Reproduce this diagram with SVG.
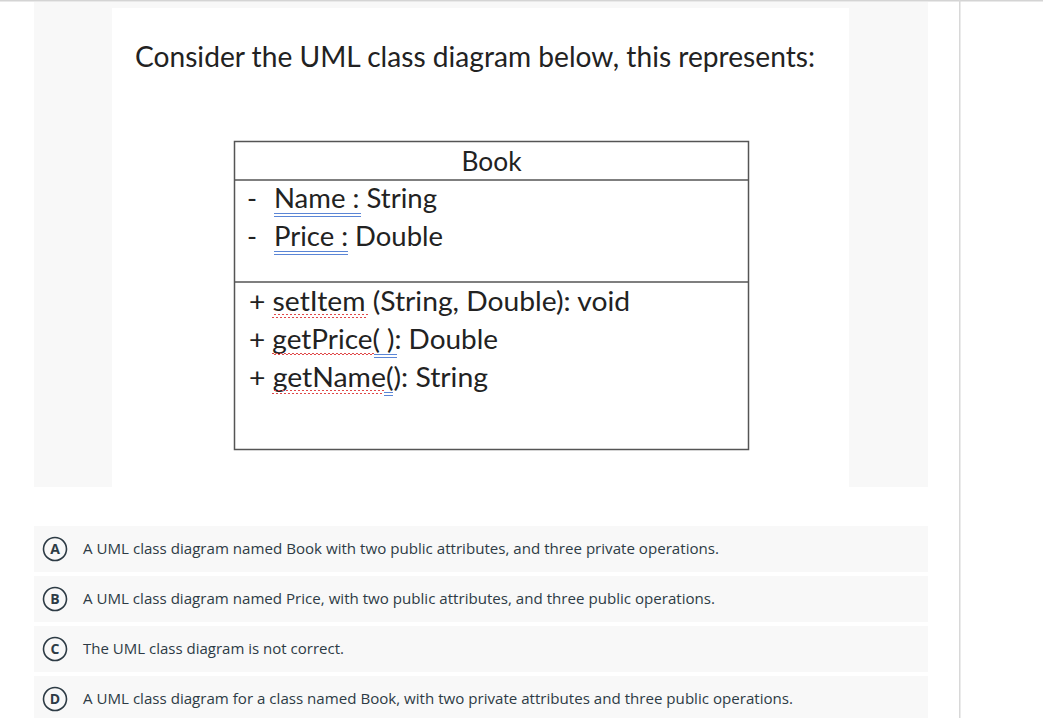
<svg xmlns="http://www.w3.org/2000/svg" width="1043" height="718" viewBox="0 0 1043 718">
<defs>
<style>
.panel{fill:#f8f8f8}
.cal{font-family:Lato,"Liberation Sans",sans-serif;fill:#222222}
.opt{font-family:"Open Sans","Liberation Sans",sans-serif;font-size:14px;font-weight:500;fill:#2d3b45}
.letter{font-family:"Open Sans","Liberation Sans",sans-serif;font-size:14px;font-weight:700;fill:#2d3b45;text-anchor:middle}
.circ{fill:none;stroke:#2d3b45;stroke-width:1.6}
.box{fill:#ffffff;stroke:#555555;stroke-width:1.5}
.div{stroke:#555555;stroke-width:1.5}
.blue{stroke:#5b86d6;stroke-width:1}
</style>
<pattern id="wave" width="4" height="4" patternUnits="userSpaceOnUse">
<path d="M0,2 Q1,0 2,2 T4,2" fill="none" stroke="#e04848" stroke-width="1"/>
</pattern>
</defs>
<rect width="1043" height="718" fill="#ffffff"/>
<rect x="0" y="0" width="1043" height="1.5" fill="#d4d4d4"/>
<rect x="959" y="0" width="1.5" height="718" fill="#d8d8d8"/>
<rect class="panel" x="34" y="2" width="894" height="485"/>
<rect x="112" y="8" width="737" height="479" fill="#ffffff"/>
<text class="cal" x="135" y="67" font-size="28" textLength="680" lengthAdjust="spacingAndGlyphs" fill="#111111">Consider the UML class diagram below, this represents:</text>
<g id="book">
<rect class="box" x="234.5" y="141.5" width="514" height="308"/>
<line class="div" x1="234.5" y1="180" x2="748.5" y2="180"/>
<line class="div" x1="234.5" y1="282" x2="748.5" y2="282"/>
<text class="cal" x="491.5" y="171" font-size="27" text-anchor="middle" textLength="60" lengthAdjust="spacingAndGlyphs">Book</text>
<text class="cal" x="247" y="208" font-size="27">-</text>
<text class="cal" x="274" y="208" font-size="27" textLength="163" lengthAdjust="spacingAndGlyphs">Name : String</text>
<line class="blue" x1="274" y1="213.5" x2="361" y2="213.5"/>
<line class="blue" x1="274" y1="216.5" x2="361" y2="216.5"/>
<text class="cal" x="247" y="246" font-size="27">-</text>
<text class="cal" x="274" y="246" font-size="27" textLength="169" lengthAdjust="spacingAndGlyphs">Price : Double</text>
<line class="blue" x1="274" y1="251.5" x2="348" y2="251.5"/>
<line class="blue" x1="274" y1="254.5" x2="348" y2="254.5"/>
<text class="cal" x="249" y="311" font-size="27" textLength="381" lengthAdjust="spacingAndGlyphs">+ setItem (String, Double): void</text>
<rect x="272" y="314" width="96" height="4" fill="url(#wave)"/>
<text class="cal" x="249" y="349" font-size="27" textLength="249" lengthAdjust="spacingAndGlyphs">+ getPrice( ): Double</text>
<rect x="272" y="352" width="104" height="4" fill="url(#wave)"/>
<line class="blue" x1="374" y1="354.5" x2="397" y2="354.5"/>
<line class="blue" x1="374" y1="357.5" x2="397" y2="357.5"/>
<text class="cal" x="249" y="387" font-size="27" textLength="239" lengthAdjust="spacingAndGlyphs">+ getName(): String</text>
<rect x="272" y="390" width="112" height="4" fill="url(#wave)"/>
<line class="blue" x1="384" y1="392.5" x2="393" y2="392.5"/>
<line class="blue" x1="384" y1="395.5" x2="393" y2="395.5"/>
</g>
<g id="optA">
<rect class="panel" x="34" y="526" width="894" height="46"/>
<circle class="circ" cx="55" cy="549" r="11.5"/>
<text class="letter" x="55" y="554">A</text>
<text class="opt" x="83" y="554" textLength="636" lengthAdjust="spacingAndGlyphs">A UML class diagram named Book with two public attributes, and three private operations.</text>
</g>
<g id="optB">
<rect class="panel" x="34" y="576" width="894" height="46"/>
<circle class="circ" cx="55" cy="599" r="11.5"/>
<text class="letter" x="55" y="604">B</text>
<text class="opt" x="83" y="604" textLength="632" lengthAdjust="spacingAndGlyphs">A UML class diagram named Price, with two public attributes, and three public operations.</text>
</g>
<g id="optC">
<rect class="panel" x="34" y="626" width="894" height="46"/>
<circle class="circ" cx="55" cy="649" r="11.5"/>
<text class="letter" x="55" y="654">C</text>
<text class="opt" x="83" y="654" textLength="261" lengthAdjust="spacingAndGlyphs">The UML class diagram is not correct.</text>
</g>
<g id="optD">
<rect class="panel" x="34" y="676" width="894" height="42"/>
<circle class="circ" cx="55" cy="699" r="11.5"/>
<text class="letter" x="55" y="704">D</text>
<text class="opt" x="83" y="704" textLength="710" lengthAdjust="spacingAndGlyphs">A UML class diagram for a class named Book, with two private attributes and three public operations.</text>
</g>
</svg>
